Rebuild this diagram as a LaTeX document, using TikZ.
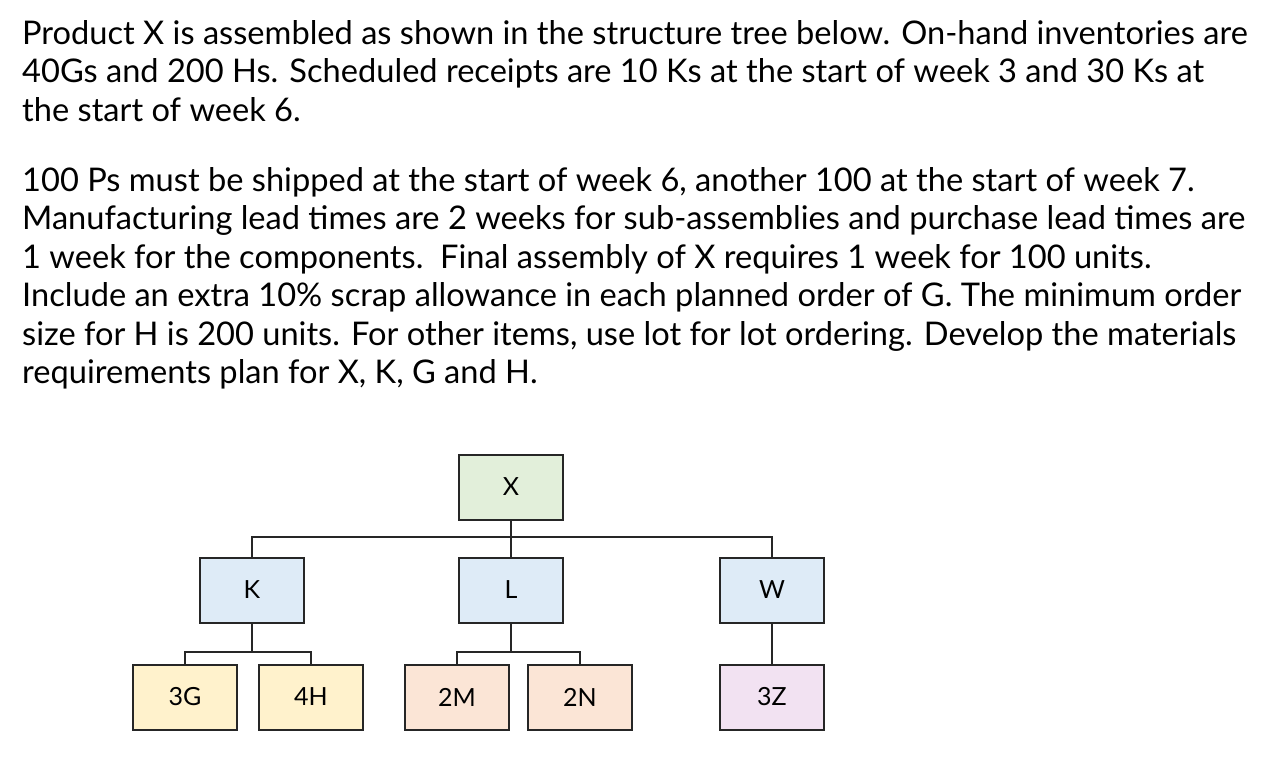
\documentclass[tikz,border=0pt]{standalone}
\usepackage{fontspec}
\setmainfont{Lato}
\usetikzlibrary{positioning}
\definecolor{topgreen}{RGB}{226,239,218}
\definecolor{midblue}{RGB}{222,235,247}
\definecolor{lowyellow}{RGB}{255,242,204}
\definecolor{lowpeach}{RGB}{251,229,214}
\definecolor{lowpink}{RGB}{242,226,242}

\begin{document}
\begin{tikzpicture}[x=1pt, y=-1pt,
every node/.style={},
part/.style={rectangle, draw=black!85, line width=2pt, minimum width=104pt, minimum height=65pt, font=\fontsize{25}{27}\selectfont},
prose/.style={anchor=north west, align=left, inner sep=0pt, font=\fontsize{32.6}{38.5}\selectfont},
link/.style={line width=2pt, draw=black!85}
]
\useasboundingbox (0,0) rectangle (1273,767);

\node [prose] (para1) at (22,20) {Product X is assembled as shown in the structure tree below. On-hand inventories are\\
40Gs and 200 Hs. Scheduled receipts are 10 Ks at the start of week 3 and 30 Ks at\\
the start of week 6.};
\node [prose] (para2) at (22,167) {100 Ps must be shipped at the start of week 6, another 100 at the start of week 7.\\
Manufacturing lead times are 2 weeks for sub-assemblies and purchase lead times are\\
1 week for the components.\ \ Final assembly of X requires 1 week for 100 units.\\
Include an extra 10\% scrap allowance in each planned order of G. The minimum order\\
size for H is 200 units. For other items, use lot for lot ordering. Develop the materials\\
requirements plan for X, K, G and H.};

\node [part, fill=topgreen] (x) at (511,487) {X};
\node [part, fill=midblue] (k) at (252,590) {K};
\node [part, fill=midblue] (l) at (511,590) {L};
\node [part, fill=midblue] (w) at (772,590) {W};
\node [part, fill=lowyellow] (g) at (185,697) {3G};
\node [part, fill=lowyellow] (h) at (311,697) {4H};
\node [part, fill=lowpeach] (m) at (457,697) {2M};
\node [part, fill=lowpeach] (n) at (580,697) {2N};
\node [part, fill=lowpink] (z) at (772,697) {3Z};

\coordinate (bar) at (511,537);
\coordinate (kbar) at (252,652);
\coordinate (lbar) at (511,652);
\draw [link] (x) -- (bar);
\draw [link] (bar) -- (l);
\draw [link] (k.north) |- (bar) -| (w.north);
\draw [link] (k.south) -- (kbar);
\draw [link] (g.north) |- (kbar) -| (h.north);
\draw [link] (l.south) -- (lbar);
\draw [link] (m.north) |- (lbar) -| (n.north);
\draw [link] (w) -- (z);
\end{tikzpicture}
\end{document}
